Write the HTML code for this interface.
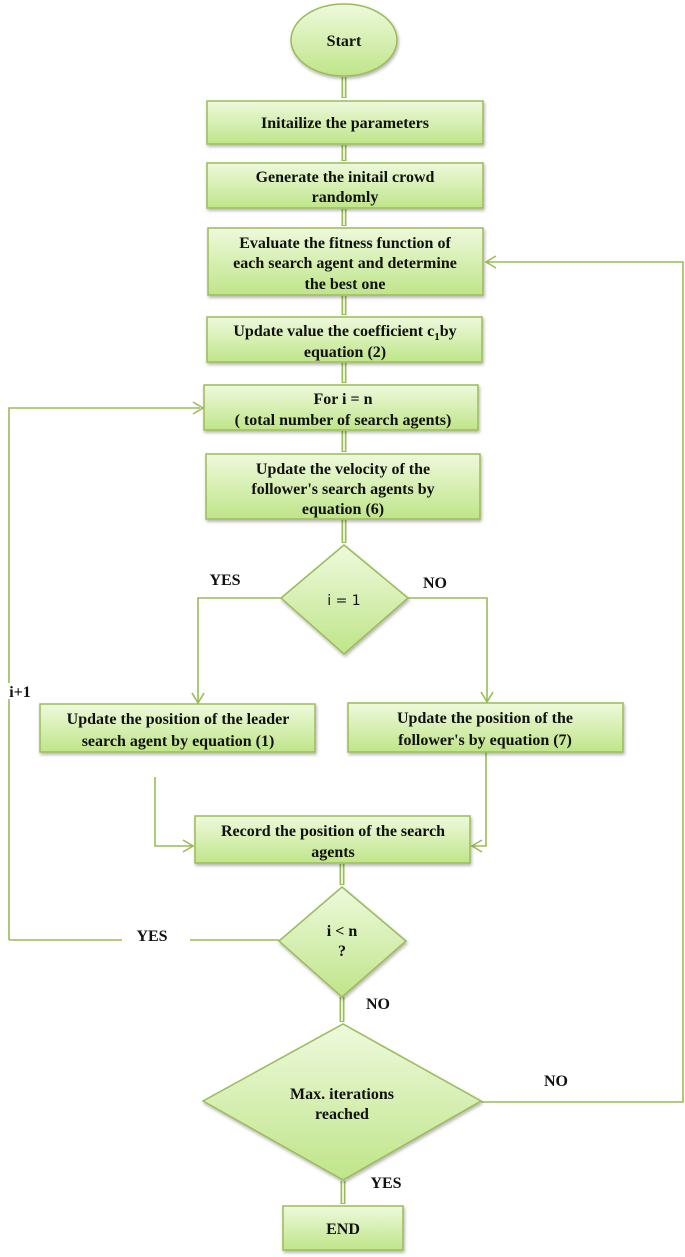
<!DOCTYPE html>
<html><head><meta charset="utf-8"><style>
html,body{margin:0;padding:0;background:#fff}
svg{display:block}
text{font-family:"Liberation Serif",serif;font-weight:bold;font-size:16px;fill:#111;text-anchor:middle}
</style></head><body>
<svg width="685" height="1257" viewBox="0 0 685 1257" xmlns="http://www.w3.org/2000/svg">
<defs>
<linearGradient id="g" x1="0" y1="0" x2="0" y2="1">
<stop offset="0" stop-color="#eef9dc"/><stop offset="1" stop-color="#bfe589"/>
</linearGradient>
<filter id="s" x="-10%" y="-10%" width="120%" height="130%"><feDropShadow dx="1" dy="2" stdDeviation="1.5" flood-color="#000" flood-opacity="0.3"/></filter>
</defs>
<g stroke="#9bbb59" stroke-width="1.6" fill="none">
<!-- double connectors on main spine -->
<g stroke-width="5" stroke="#9bbb59"><path d="M344 77V98M344 145V161M344 209V226M344 296V315M344 363V383M344 431V452M344 520V543M342 864V885M342 997V1022M343 1181V1204"/></g>
<g stroke-width="2" stroke="#e8f5d4"><path d="M344 77V97M344 145V160M344 209V225M344 296V314M344 363V382M344 431V451M344 520V542M342 864V884M342 997V1021M343 1181V1203"/></g>
<!-- loops -->
<path d="M9 940V408H200M193 402L203 408L193 414"/>
<path d="M9 940H279"/>
<path d="M481 1102H683V262H486M496 256L486 262L496 268"/>
<!-- i=1 branches -->
<path d="M281 598H198V703M192 693L198 703L204 693"/>
<path d="M408 598H487V702M481 692L487 702L493 692"/>
<path d="M155 777V846H193M183 840L193 846L183 852"/>
<path d="M486 752V846H472M482 840L472 846L482 852"/>
</g>
<!-- label backgrounds -->
<rect x="122" y="930" width="68" height="14" fill="#fff"/>
<rect x="0" y="683" width="40" height="16" fill="#fff"/>
<g filter="url(#s)" fill="url(#g)" stroke="#9bbb59" stroke-width="1.5">
<ellipse cx="344" cy="40" rx="53" ry="36"/>
<rect x="207" y="101" width="276" height="43"/>
<rect x="207" y="163" width="276" height="45"/>
<rect x="208" y="228" width="275" height="67"/>
<rect x="207" y="317" width="275" height="45"/>
<rect x="204" y="385" width="274" height="45"/>
<rect x="206" y="454" width="274" height="65"/>
<polygon points="344,545 408,598 344,654 281,598"/>
<rect x="40" y="704" width="275" height="48"/>
<rect x="348" y="703" width="275" height="49"/>
<rect x="195" y="816" width="275" height="47"/>
<polygon points="342,887 406,941 342,997 279,941"/>
<polygon points="343,1024 481,1101 343,1180 203,1101"/>
<rect x="283" y="1206" width="120" height="44"/>
</g>
<text x="344" y="46">Start</text>
<text x="345" y="128">Initailize the parameters</text>
<text x="345" y="182">Generate the initail crowd</text>
<text x="345" y="202">randomly</text>
<text x="345" y="248">Evaluate the fitness function of</text>
<text x="345" y="268">each search agent and determine</text>
<text x="345" y="289">the best one</text>
<text x="345" y="336">Update value the coefficient c<tspan font-size="11" dy="4">1</tspan><tspan dy="-4">by</tspan></text>
<text x="345" y="357">equation (2)</text>
<text x="343" y="404">For i = n</text>
<text x="343" y="425">( total number of search agents)</text>
<text x="343" y="474">Update the velocity of the</text>
<text x="343" y="494">follower's search agents by</text>
<text x="343" y="514">equation (6)</text>
<text x="344" y="605" style="font-family:'DejaVu Sans',sans-serif;font-weight:normal;font-size:14px">i = 1</text>
<text x="225" y="585" font-size="12">YES</text>
<text x="435" y="588" font-size="12">NO</text>
<text x="20" y="697" font-size="12">i+1</text>
<text x="178" y="724">Update the position of the leader</text>
<text x="178" y="746">search agent by equation (1)</text>
<text x="485" y="723">Update the position of the</text>
<text x="485" y="745">follower's by equation (7)</text>
<text x="333" y="836">Record the position of the search</text>
<text x="333" y="857">agents</text>
<text x="342" y="936">i &lt; n</text>
<text x="342" y="956">?</text>
<text x="152" y="941" font-size="12">YES</text>
<text x="378" y="1009" font-size="12">NO</text>
<text x="342" y="1099">Max. iterations</text>
<text x="342" y="1119">reached</text>
<text x="556" y="1086" font-size="12">NO</text>
<text x="386" y="1188" font-size="12">YES</text>
<text x="343" y="1234">END</text>
</svg>
</body></html>
